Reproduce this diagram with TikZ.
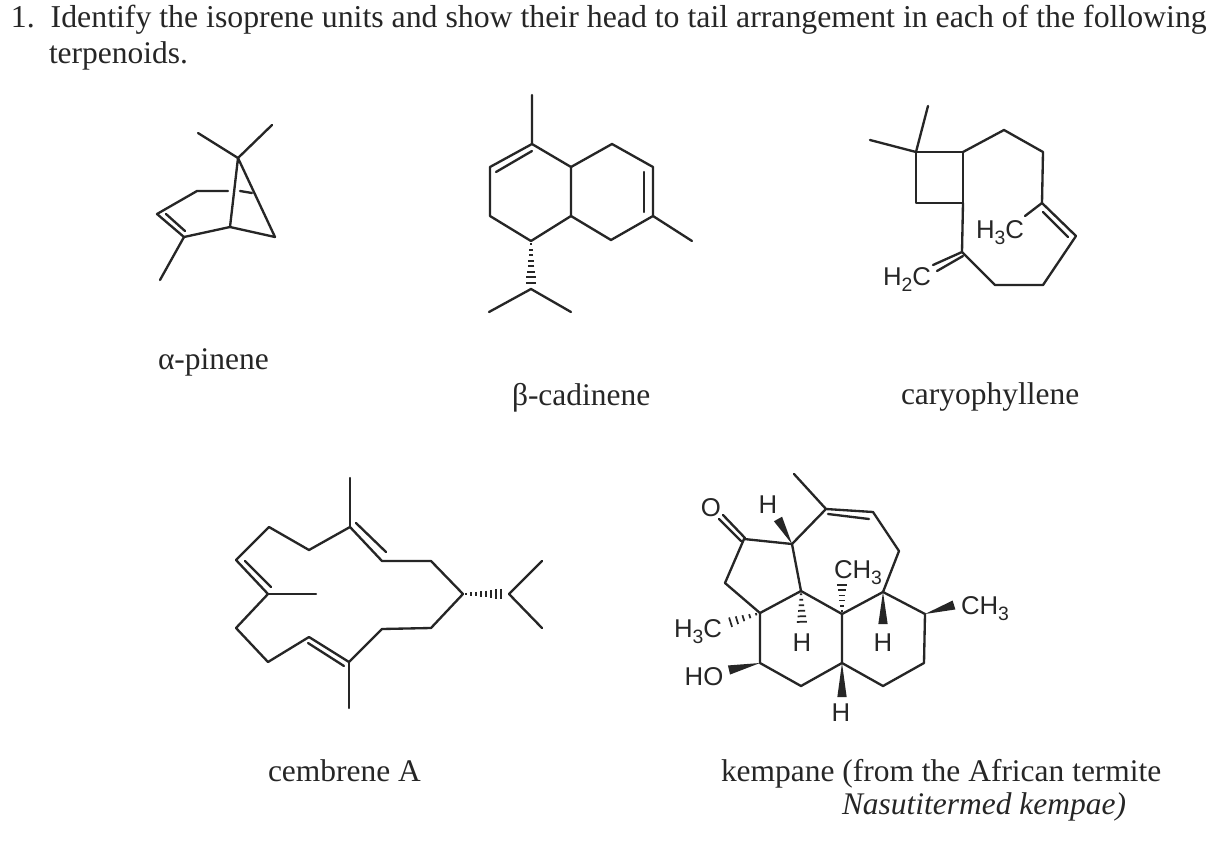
\documentclass[tikz,border=0pt]{standalone}
\usepackage{fontspec}
\setmainfont{Liberation Serif}
\newfontfamily\chemfont{Liberation Sans}
\usetikzlibrary{calc}
\definecolor{ink}{HTML}{262626}
\newcommand{\chemsub}[1]{\raisebox{-0.24em}{\fontsize{14.5}{14.5}\selectfont #1}}
\newcommand{\hashbond}[4]{% from, to, count, half width at end
  \foreach \hi in {1,...,#3}{
    \pgfmathsetmacro{\ht}{(\hi-0.4)/#3}
    \pgfmathsetmacro{\hw}{0.5+(#4-0.5)*\ht}
    \draw[hashline] ($(#1)!\ht!(#2)!\hw pt!90:(#2)$) -- ($(#1)!\ht!(#2)!\hw pt!-90:(#2)$);
  }}
\newcommand{\wedgebond}[3]{% from, to, half width
  \fill[ink] (#1) -- ($(#2)!#3 pt!90:(#1)$) -- ($(#2)!#3 pt!-90:(#1)$) -- cycle;}
\tikzset{
  bond/.style={draw=ink,line width=1.75pt,line cap=round,line join=round},
  hashline/.style={draw=ink,line width=1.3pt},
  body/.style={inner sep=0pt,outer sep=0pt,anchor=base west,text=ink,font=\fontsize{23.6}{28}\selectfont},
  atom/.style={inner sep=0pt,outer sep=0pt,anchor=base,text=ink,font=\chemfont\fontsize{19.3}{22}\selectfont},
}
\begin{document}
\begin{tikzpicture}[x=0.75pt,y=-0.75pt]
\useasboundingbox (0,0) rectangle (1218,864);
\fill[white] (0,0) rectangle (1218,864);
% texts
\node[body,font=\fontsize{23.85}{28}\selectfont] (q1) at (11,27) {1.\ \ Identify the isoprene units and show their head to tail arrangement in each of the following};
\node[body] (q2) at (49,63) {terpenoids.};
\node[body] (n1) at (158,369) {α-pinene};
\node[body] (n2) at (512,405) {β-cadinene};
\node[body] (n3) at (901,404) {caryophyllene};
\node[body] (n4) at (268,781) {cembrene A};
\node[body] (n5) at (721,781) {kempane (from the African termite};
\node[body] (n6) at (842,814) {\itshape Nasutitermed kempae)};
% alpha-pinene
\foreach \n/\x/\y in {pT/238/158,pM1/198/133,pM2/272/125,pA/197/191,pG1/228/191,pG2/240/191,pB/252/193,pC/157/214,pD/184/237,pE/230/227,pF/275/237,pM/160/280,pI1/166/214,pI2/185/231}
  \coordinate (\n) at (\x,\y);
\draw[bond] (pM1) -- (pT) -- (pM2);
\draw[bond] (pE) -- (pT) -- (pF) -- (pE) -- (pD) -- (pC) -- (pA) -- (pG1);
\draw[bond] (pG2) -- (pB);
\draw[bond] (pD) -- (pM);
\draw[bond] (pI1) -- (pI2);
% beta-cadinene
\foreach \n/\x/\y in {cM/532/95,ca/532/144,cb/490/167,cc/490/216,cd/531/241,ce/571/216,cf/571/167,cg/612/144,ch/653/167,ci/653/216,cj/611/240,cN/692/241,cI1/496/172,cI2/532/151,cI3/644/172,cI4/644/212,cH/531/285,cP/531/289,cQ/489/312,cR/571/312}
  \coordinate (\n) at (\x,\y);
\draw[bond] (cM) -- (ca) -- (cb) -- (cc) -- (cd) -- (ce) -- (cf) -- (ca);
\draw[bond] (cf) -- (cg) -- (ch) -- (ci) -- (cj) -- (ce);
\draw[bond] (ci) -- (cN);
\draw[bond] (cI1) -- (cI2);
\draw[bond] (cI3) -- (cI4);
\draw[bond] (cQ) -- (cP) -- (cR);
\hashbond{cd}{cH}{8}{4}
% caryophyllene
\foreach \n/\x/\y in {yM1/928/106,yM2/870/140,yq/916/152,yr/963/152,ys/963/203,yt/916/203,yu/1004/130,yv/1043/152,yw/1042/203,yx/1076/236,yy/1043/285,yz/995/285,yA/962/252,yI1/1043/212,yI2/1068/237,yL/1025/216,yC1/933/265,yC2/963/256,yC3/937/271}
  \coordinate (\n) at (\x,\y);
\draw[bond] (yM1) -- (yq) -- (yM2);
\draw[bond] (yq) -- (yr) -- (ys) -- (yt) -- (yq);
\draw[bond] (yr) -- (yu) -- (yv) -- (yw) -- (yx) -- (yy) -- (yz) -- (yA) -- (ys);
\draw[bond] (yw) -- (yL);
\draw[bond] (yI1) -- (yI2);
\draw[bond] (yA) -- (yC1);
\draw[bond] (yC2) -- (yC3);
\node[atom] (yH3C) at (1000,238) {H\chemsub{3}C};
\node[atom] (yH2C) at (907,285) {H\chemsub{2}C};
% cembrene A
\foreach \n/\x/\y in {eT/350/478,e1/350/527,e2/309/550,e3/269/527,e4/236/560,e5/268/594,eL/316/594,e6/236/628,e7/268/662,e8/309/637,e9/349/662,eB/349/708,e10/382/629,e11/431/628,e12/463/594,e13/431/561,e14/382/561,eH/503/594,eP/509/594,eQ/542/561,eR/542/628,eI1/356/523,eI2/386/552,eI3/245/561,eI4/271/587,eI5/308/643,eI6/344/666}
  \coordinate (\n) at (\x,\y);
\draw[bond] (e1) -- (e2) -- (e3) -- (e4) -- (e5) -- (e6) -- (e7) -- (e8) -- (e9) -- (e10) -- (e11) -- (e12) -- (e13) -- (e14) -- (e1);
\draw[bond] (eT) -- (e1);
\draw[bond] (e5) -- (eL);
\draw[bond] (e9) -- (eB);
\draw[bond] (eQ) -- (eP) -- (eR);
\draw[bond] (eI1) -- (eI2);
\draw[bond] (eI3) -- (eI4);
\draw[bond] (eI5) -- (eI6);
\hashbond{e12}{eH}{8}{4}
% kempane
\foreach \n/\x/\y in {k1/744/539,k2/792/544,k3/826/509,kM/794/474,k4/873/512,k5/899/551,k6/883/592,k7/925/614,k8/924/663,k9/883/686,k10/842/663,k11/842/614,k12/801/591,k13/760/613,k14/725/583,k15/760/663,k16/801/686,kO1/723/515,kO2/745/538,kO3/719/519,kO4/741/541,kI1/828/514,kI2/869/519,kWa/778/519,kHb/802/624,kHc/728/623,kWd/729/670,kHe/842/583,kWf/883/624,kWg/954/605,kWh/842/697}
  \coordinate (\n) at (\x,\y);
\draw[bond] (k1) -- (k2) -- (k3) -- (k4) -- (k5) -- (k6) -- (k7) -- (k8) -- (k9) -- (k10) -- (k11) -- (k6);
\draw[bond] (k11) -- (k12) -- (k2);
\draw[bond] (k12) -- (k13) -- (k14) -- (k1);
\draw[bond] (k13) -- (k15) -- (k16) -- (k10);
\draw[bond] (k3) -- (kM);
\draw[bond] (kO1) -- (kO2);
\draw[bond] (kO3) -- (kO4);
\draw[bond] (kI1) -- (kI2);
\wedgebond{k2}{kWa}{3.5}
\wedgebond{k15}{kWd}{3.5}
\wedgebond{k6}{kWf}{3.5}
\wedgebond{k7}{kWg}{3.5}
\wedgebond{k10}{kWh}{3.5}
\hashbond{k12}{kHb}{6}{4}
\hashbond{k13}{kHc}{5}{4}
\hashbond{k11}{kHe}{6}{4}
\node[atom] (kO) at (711,516) {O};
\node[atom] (kH1) at (768,513) {H};
\node[atom] (kH2) at (802,651) {H};
\node[atom] (kH3) at (883,651) {H};
\node[atom] (kH4) at (841,721) {H};
\node[atom] (kMe1) at (698,637) {H\chemsub{3}C};
\node[atom] (kOH) at (704,685) {HO};
\node[atom] (kMe2) at (858,578) {CH\chemsub{3}};
\node[atom] (kMe3) at (985,614) {CH\chemsub{3}};
\end{tikzpicture}
\end{document}
